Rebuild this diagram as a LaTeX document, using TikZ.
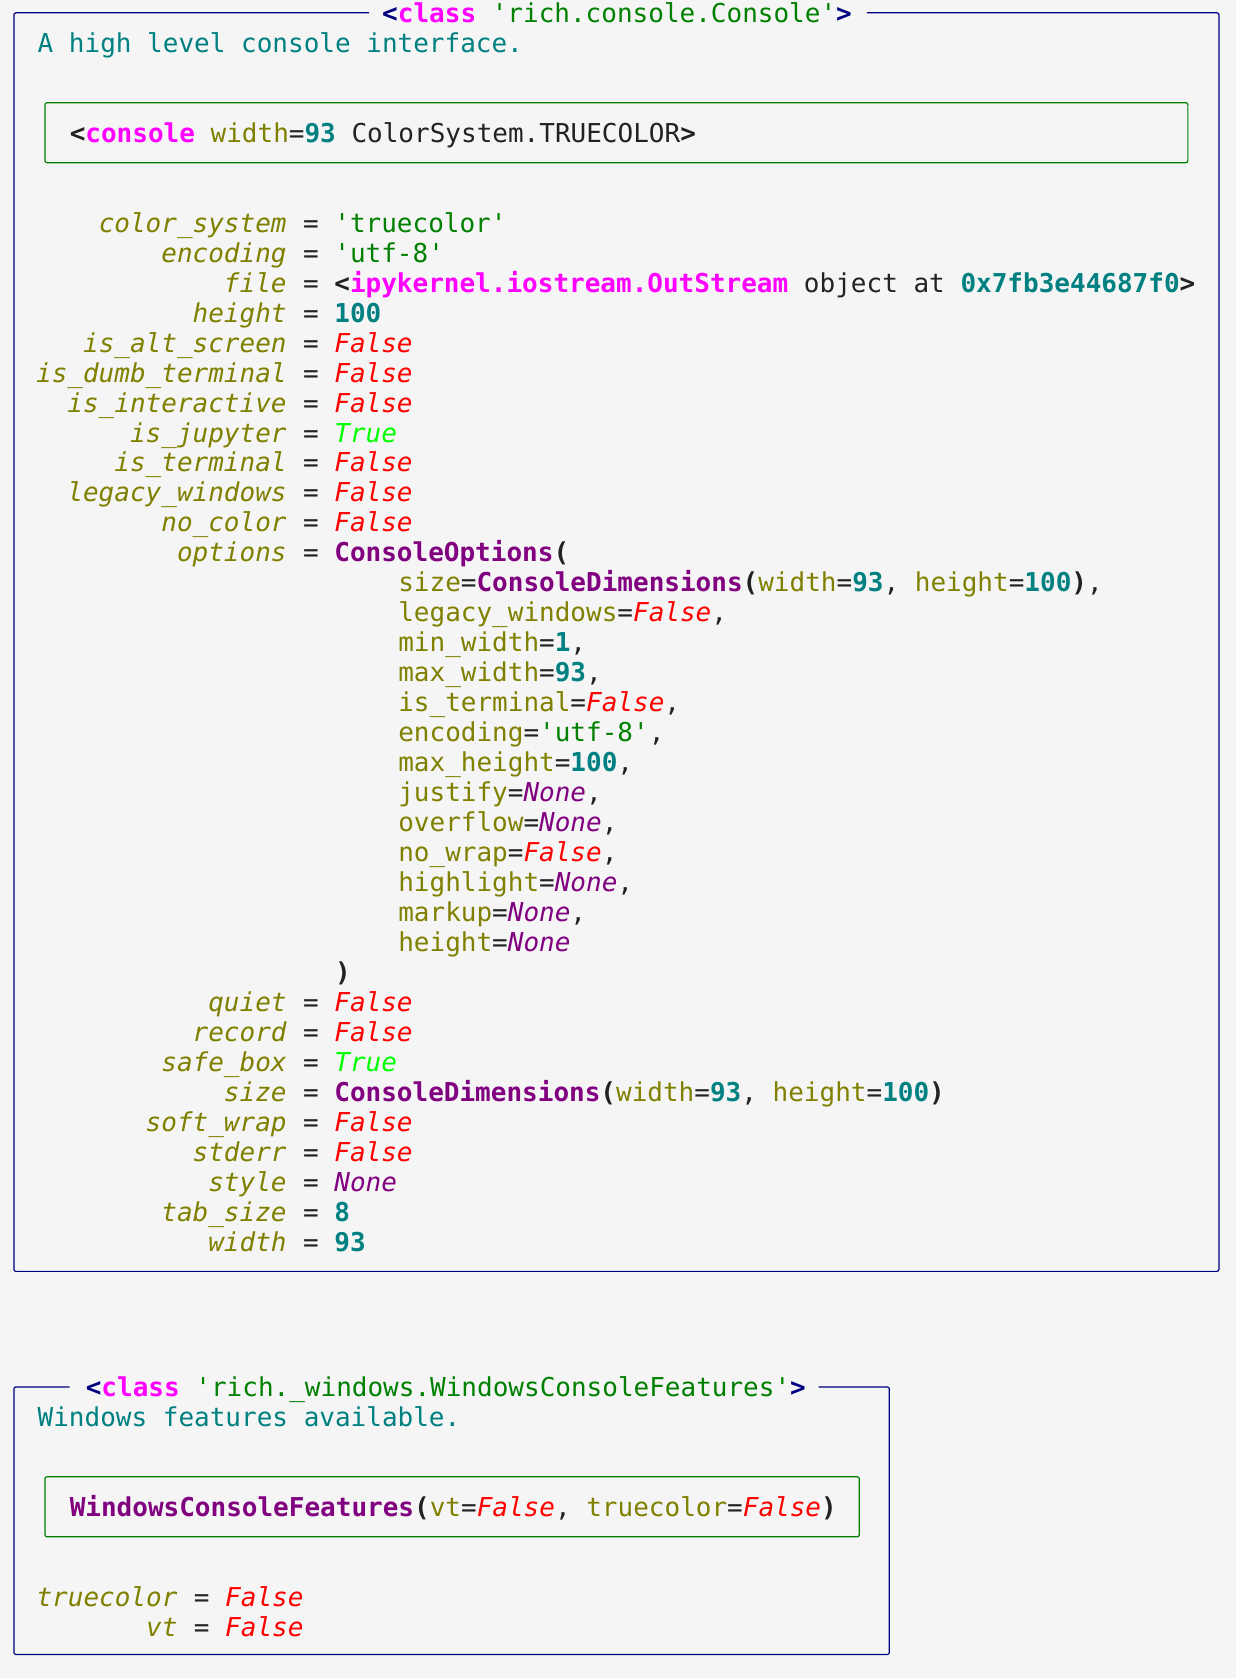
\documentclass[tikz,border=0pt]{standalone}
\usepackage{fontspec}
\setmonofont{DejaVu Sans Mono}
\definecolor{bg}{HTML}{F5F5F5}
\definecolor{navy}{HTML}{000080}
\definecolor{grn}{HTML}{008000}
\definecolor{olv}{HTML}{808000}
\definecolor{tea}{HTML}{008080}
\definecolor{rd}{HTML}{FF0000}
\definecolor{lgr}{HTML}{00FF00}
\definecolor{pur}{HTML}{800080}
\definecolor{mag}{HTML}{FF00FF}
\definecolor{dk}{HTML}{222222}
\newcommand{\nmi}[1]{\textcolor{olv}{\itshape #1}}
\newcommand{\nmo}[1]{\textcolor{olv}{#1}}
\newcommand{\sq}[1]{\textcolor{grn}{#1}}
\newcommand{\nb}[1]{\textcolor{tea}{\bfseries #1}}
\newcommand{\Fv}{\textcolor{rd}{\itshape False}}
\newcommand{\Tv}{\textcolor{lgr}{\itshape True}}
\newcommand{\Nv}{\textcolor{pur}{\itshape None}}
\newcommand{\clsn}[1]{\textcolor{pur}{\bfseries #1}}
\newcommand{\mgb}[1]{\textcolor{mag}{\bfseries #1}}
\newcommand{\bk}[1]{\textcolor{dk}{\bfseries #1}}
\tikzset{
  txt/.style={font=\ttfamily\fontsize{26}{30}\selectfont, text=dk, inner sep=0pt, anchor=mid west, yshift=-7.5pt},
  nml/.style={font=\ttfamily\fontsize{26}{30}\selectfont, inner sep=0pt, anchor=mid east, yshift=-7.5pt},
  outerbox/.style={draw=navy, line width=1.2pt, rounded corners=2pt},
  innerbox/.style={draw=grn, line width=1.2pt, rounded corners=2pt}
}
\begin{document}
\begin{tikzpicture}[x=1.0701pt,y=-1.0701pt]
\fill[bg] (0,0) rectangle (1155,1568);
\useasboundingbox (0,0) rectangle (1155,1568);
% box 1
\draw[outerbox] (810,12) -- (1139,12) -- (1139,1188) -- (13,1188) -- (13,12) -- (345,12);
\node[txt] (t1) at (357,12) {\textcolor{navy}{\bfseries<}\mgb{class} \sq{'rich.console.Console'}\textcolor{navy}{\bfseries>}};
\node[txt] (d1) at (35,40) {\textcolor{tea}{A high level console interface.}};
\draw[innerbox] (42,96) rectangle (1110,152);
\node[txt] (r1) at (65,124) {\bk{<}\mgb{console} \nmo{width}=\nb{93} ColorSystem.TRUECOLOR\bk{>}};
\foreach \y/\n/\v in {
 208/color\_system/\sq{'truecolor'},
 236/encoding/\sq{'utf-8'},
 264/file/{\bk{<}\mgb{ipykernel.iostream.OutStream} object at \nb{0x7fb3e44687f0}\bk{>}},
 292/height/\nb{100},
 320/is\_alt\_screen/\Fv,
 348/is\_dumb\_terminal/\Fv,
 376/is\_interactive/\Fv,
 404/is\_jupyter/\Tv,
 432/is\_terminal/\Fv,
 460/legacy\_windows/\Fv,
 488/no\_color/\Fv,
 516/options/{\clsn{ConsoleOptions}\bk{(}},
 936/quiet/\Fv,
 964/record/\Fv,
 992/safe\_box/\Tv,
 1020/size/{\clsn{ConsoleDimensions}\bk{(}\nmo{width}=\nb{93}, \nmo{height}=\nb{100}\bk{)}},
 1048/soft\_wrap/\Fv,
 1076/stderr/\Fv,
 1104/style/\Nv,
 1132/tab\_size/\nb{8},
 1160/width/\nb{93}}{
  \node[nml] (n\y) at (268,\y) {\nmi{\n}};
  \node[txt] (v\y) at (283,\y) {= \v};
}
\foreach \y/\v in {
 544/{\nmo{size}=\clsn{ConsoleDimensions}\bk{(}\nmo{width}=\nb{93}, \nmo{height}=\nb{100}\bk{)},},
 572/{\nmo{legacy\_windows}=\Fv,},
 600/{\nmo{min\_width}=\nb{1},},
 628/{\nmo{max\_width}=\nb{93},},
 656/{\nmo{is\_terminal}=\Fv,},
 684/{\nmo{encoding}=\sq{'utf-8'},},
 712/{\nmo{max\_height}=\nb{100},},
 740/{\nmo{justify}=\Nv,},
 768/{\nmo{overflow}=\Nv,},
 796/{\nmo{no\_wrap}=\Fv,},
 824/{\nmo{highlight}=\Nv,},
 852/{\nmo{markup}=\Nv,},
 880/{\nmo{height}=\Nv}}{
  \node[txt] (o\y) at (372,\y) {\v};
}
\node[txt] (close) at (313,908) {\bk{)}};
% box 2
\draw[outerbox] (765,1296) -- (831,1296) -- (831,1546) -- (13,1546) -- (13,1296) -- (65,1296);
\node[txt] (t2) at (80,1296) {\textcolor{navy}{\bfseries<}\mgb{class} \sq{'rich.\_windows.WindowsConsoleFeatures'}\textcolor{navy}{\bfseries>}};
\node[txt] (d2) at (35,1324) {\textcolor{tea}{Windows features available.}};
\draw[innerbox] (42,1380) rectangle (803,1436);
\node[txt] (r2) at (65,1408) {\clsn{WindowsConsoleFeatures}\bk{(}\nmo{vt}=\Fv, \nmo{truecolor}=\Fv\bk{)}};
\node[nml] (w1) at (166,1492) {\nmi{truecolor}};
\node[txt] (wv1) at (181,1492) {= \Fv};
\node[nml] (w2) at (166,1520) {\nmi{vt}};
\node[txt] (wv2) at (181,1520) {= \Fv};
\end{tikzpicture}
\end{document}
